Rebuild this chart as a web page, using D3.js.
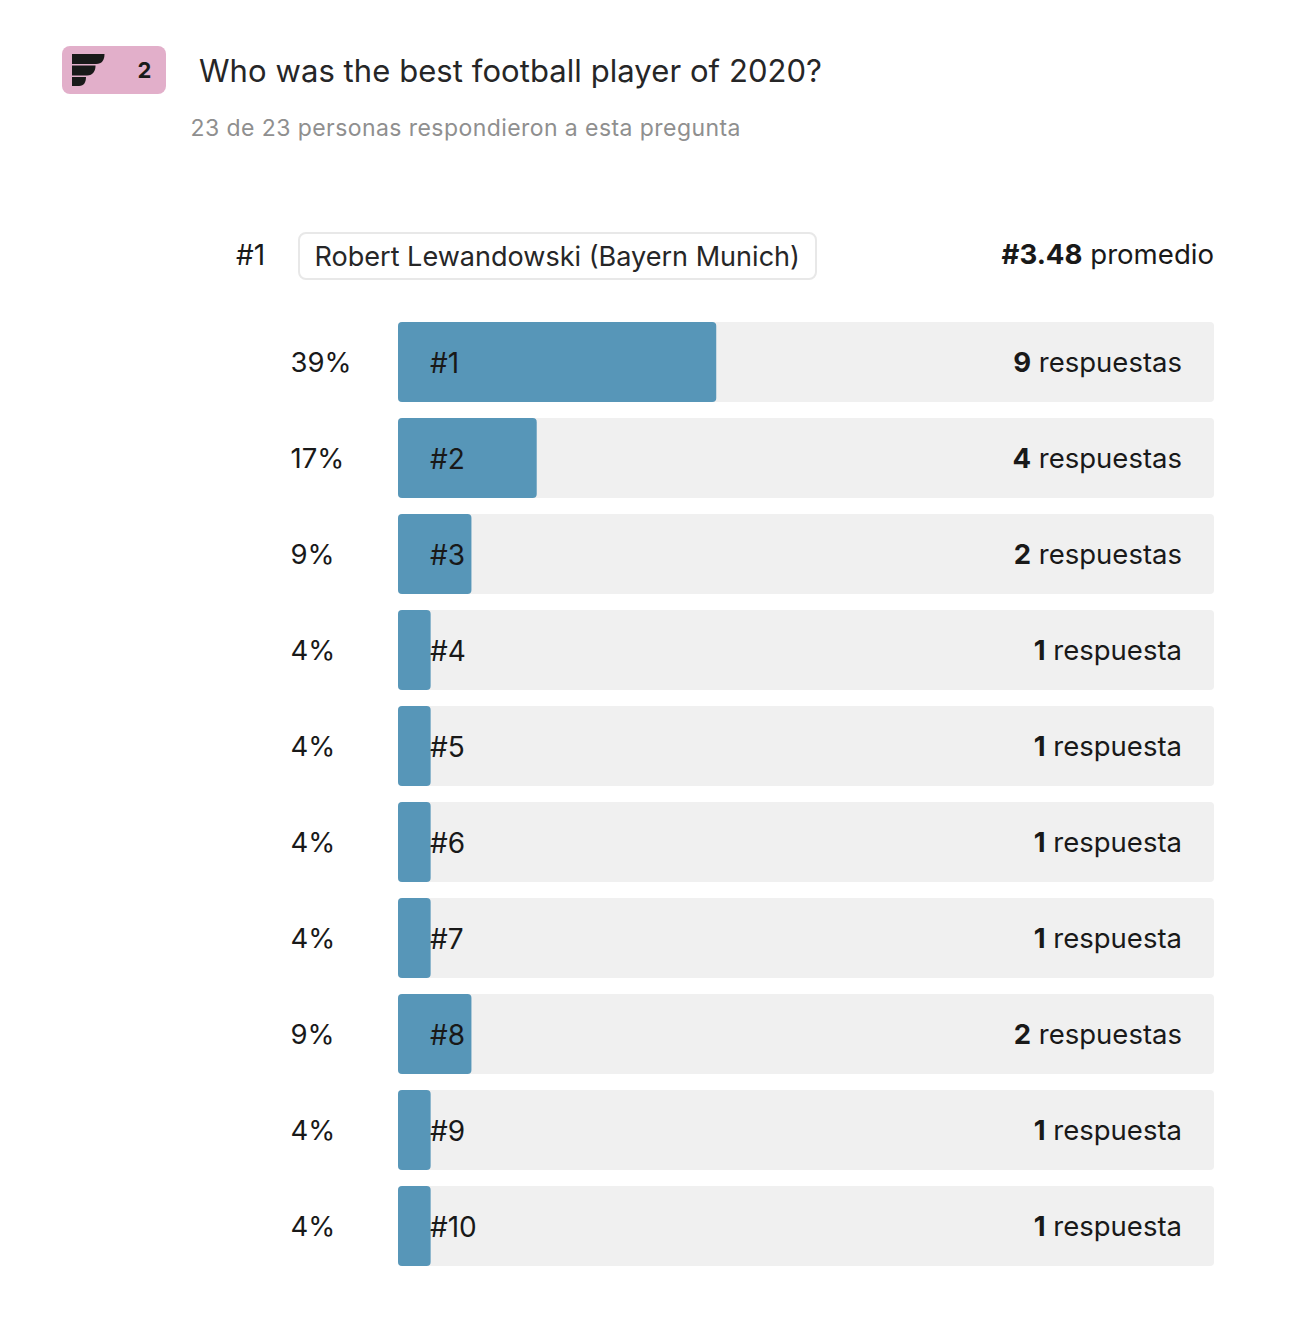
<!DOCTYPE html>
<html>
<head>
<meta charset="utf-8">
<script src="https://cdn.jsdelivr.net/npm/d3@7"></script>
<style>
html, body { margin: 0; padding: 0; background: #fff; }
text { font-family: Inter, "Open Sans", sans-serif; fill: #191919; }
</style>
</head>
<body>
<svg id="chart" width="1304" height="1342"></svg>
<script>
var ranks = ['#1','#2','#3','#4','#5','#6','#7','#8','#9','#10'];
var percents = [39,17,9,4,4,4,4,9,4,4];
var answers = [9,4,2,1,1,1,1,2,1,1];

var questionTitle = 'Who was the best football player of 2020?';
var subtitle = '23 de 23 personas respondieron a esta pregunta';
var optionName = 'Robert Lewandowski (Bayern Munich)';

var svg = d3.select('#chart');

var x = d3.scaleLinear().domain([0,100]).range([398,1214]);
// step comes out at 96, bar height 80
var y = d3.scaleBand().domain(ranks).range([322,1266]).paddingInner(1/6).paddingOuter(0);

// header badge
svg.append('rect')
    .attr('x',62).attr('y',46).attr('width',104).attr('height',48).attr('rx',8)
    .attr('fill','#e2afca');
var logo = svg.append('g').attr('fill','#191919');
logo.append('path').attr('d','M72 54H104.5C104.5 60 102 64 96 64H72Z');
logo.append('path').attr('d','M72 65.5H95.5C95.5 71 93 75.5 87 75.5H72Z');
logo.append('path').attr('d','M72 77H86C86 82 84 86 79 86H72Z');
svg.append('text')
    .attr('x',144.5).attr('y',78).attr('text-anchor','middle')
    .style('font-size','22px').style('font-weight',700)
    .text('2');

svg.append('text')
    .attr('x',199).attr('y',82)
    .style('font-size','31px').style('letter-spacing','0.07px').style('fill','#262627')
    .text(questionTitle);
svg.append('text')
    .attr('x',190.5).attr('y',136)
    .style('font-size','23px').style('letter-spacing','0.43px').style('fill','#8f8f8f')
    .text(subtitle);

// option row
svg.append('text')
    .attr('x',236).attr('y',264.5)
    .style('font-size','28px')
    .text('#1');
svg.append('rect')
    .attr('x',299).attr('y',233).attr('width',517).attr('height',46).attr('rx',7)
    .attr('fill','#fff').attr('stroke','#e8e8e8').attr('stroke-width',2);
svg.append('text')
    .attr('x',314.5).attr('y',266)
    .style('font-size','27.05px').style('fill','#262627')
    .text(optionName);
var avg = svg.append('text')
    .attr('x',1214).attr('y',264).attr('text-anchor','end')
    .style('font-size','27.6px');
avg.append('tspan').style('font-weight',700).text('#3.48');
avg.append('tspan').text(' promedio');

// rows
var rows = svg.selectAll('g.row')
    .data(ranks)
    .enter()
    .append('g')
        .attr('class','row')
        .attr('transform',function(d) { return 'translate(0,' + y(d) + ')'; });

rows.append('rect')
    .attr('x',x(0)).attr('width',x(100)-x(0)).attr('height',y.bandwidth()).attr('rx',4)
    .attr('fill','#f0f0f0');
rows.append('rect')
    .attr('x',x(0))
    .attr('width',function(d,i) { return x(percents[i])-x(0); })
    .attr('height',y.bandwidth()).attr('rx',4)
    .attr('fill','#5796b8');
rows.append('text')
    .attr('x',290.5).attr('y',50)
    .style('font-size','27.5px')
    .text(function(d,i) { return percents[i] + '%'; });
rows.append('text')
    .attr('x',430).attr('y',50.5)
    .style('font-size','28px')
    .text(function(d) { return d; });

var resp = rows.append('text')
    .attr('x',1182).attr('y',50).attr('text-anchor','end')
    .style('font-size','27.5px');
resp.append('tspan').style('font-weight',700)
    .text(function(d,i) { return answers[i]; });
resp.append('tspan')
    .text(function(d,i) { return answers[i]==1 ? ' respuesta' : ' respuestas'; });
</script>
</body>
</html>
